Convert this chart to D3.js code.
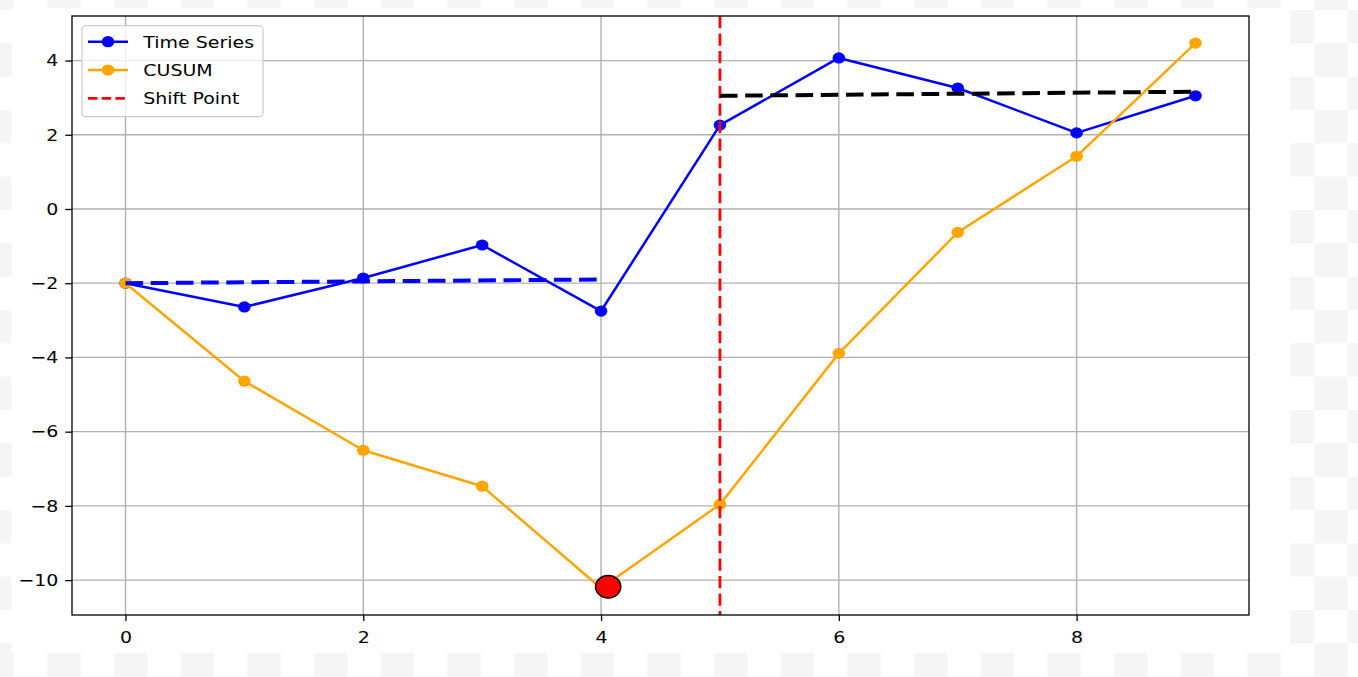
<!DOCTYPE html>
<html>
<head>
<meta charset="utf-8">
<script src="https://cdn.jsdelivr.net/npm/d3@7"></script>
<style>
    body { margin: 0; background: #fff; }
    text { font-family: "DejaVu Sans", sans-serif; }
</style>
</head>
<body>
<svg id="chart" width="1358" height="677"></svg>
<script>
// values
var steps = [0, 1, 2, 3, 4, 5, 6, 7, 8, 9];
var timeSeries = [-2.0, -2.64, -1.86, -0.97, -2.75, 2.26, 4.07, 3.26, 2.05, 3.05];
var cusum = [-2.0, -4.64, -6.5, -7.47, -10.22, -7.96, -3.89, -0.63, 1.42, 4.47];
var shiftPoint = 5;
var meanBefore = [[0, -2.0], [4, -1.9]];
var meanAfter = [[5, 3.05], [9, 3.16]];
var changePoint = [4.06, -10.18];
var xTicks = [0, 2, 4, 6, 8];
var yTicks = [-10, -8, -6, -4, -2, 0, 2, 4];
var legendLabels = ["Time Series", "CUSUM", "Shift Point"];

var svg = d3.select("#chart");
var sx = 1.15; // picture is stretched horizontally

// checker background + white figure
var defs = svg.append("defs");
var pat = defs.append("pattern").attr("id", "checker")
    .attr("patternUnits", "userSpaceOnUse")
    .attr("x", 14).attr("y", 10)
    .attr("width", 66.67).attr("height", 66.67);
pat.append("rect").attr("width", 66.67).attr("height", 66.67).attr("fill", "#fff");
pat.append("rect").attr("width", 33.33).attr("height", 33.33).attr("fill", "#f5f5f5");
pat.append("rect").attr("x", 33.33).attr("y", 33.33).attr("width", 33.33).attr("height", 33.33).attr("fill", "#f5f5f5");
svg.append("rect").attr("width", 1358).attr("height", 677).attr("fill", "url(#checker)");
svg.append("rect").attr("x", 11.5).attr("y", 8).attr("width", 1278.5).attr("height", 645).attr("fill", "#fff");

var axLeft = 72, axRight = 1249, axTop = 16, axBottom = 615;
var x = d3.scaleLinear().domain([-0.45, 9.45]).range([axLeft, axRight]);
var y = d3.scaleLinear().domain([-10.94, 5.2]).range([axBottom, axTop]);

// grid
var grid = svg.append("g");
xTicks.forEach(function (t) {
    grid.append("line").attr("x1", x(t)).attr("x2", x(t)).attr("y1", axTop).attr("y2", axBottom)
        .attr("stroke", "#b0b0b0").attr("stroke-width", 1.4);
});
yTicks.forEach(function (t) {
    grid.append("line").attr("x1", axLeft).attr("x2", axRight).attr("y1", y(t)).attr("y2", y(t))
        .attr("stroke", "#b0b0b0").attr("stroke-width", 1.3);
});

var plot = svg.append("g");
var line = d3.line().x(function (d, i) { return x(steps[i]); }).y(function (d) { return y(d); });

function drawSeries(values, color) {
    plot.append("path").datum(values).attr("d", line)
        .attr("fill", "none").attr("stroke", color).attr("stroke-width", 2.5)
        .attr("stroke-linejoin", "round");
    plot.selectAll(null).data(values).enter().append("ellipse")
        .attr("cx", function (d, i) { return x(steps[i]); })
        .attr("cy", function (d) { return y(d); })
        .attr("rx", 6.3).attr("ry", 5.6)
        .attr("fill", color);
}
drawSeries(timeSeries, "#0000ff");
drawSeries(cusum, "#ffa500");

// shift point
plot.append("line").attr("x1", x(shiftPoint)).attr("x2", x(shiftPoint)).attr("y1", axTop).attr("y2", axBottom)
    .attr("stroke", "#ff0000").attr("stroke-width", 2.8).attr("stroke-dasharray", "12.2 5.3");

var seg = d3.line().x(function (d) { return x(d[0]); }).y(function (d) { return y(d[1]); });
plot.append("path").datum(meanBefore).attr("d", seg).attr("fill", "none")
    .attr("stroke", "#0000ff").attr("stroke-width", 4).attr("stroke-dasharray", "17.6 7.6");
plot.append("path").datum(meanAfter).attr("d", seg).attr("fill", "none")
    .attr("stroke", "#000").attr("stroke-width", 4).attr("stroke-dasharray", "17.6 7.6");

plot.append("ellipse").attr("cx", x(changePoint[0])).attr("cy", y(changePoint[1]))
    .attr("rx", 12.6).attr("ry", 11.2).attr("fill", "#ff0000")
    .attr("stroke", "#000").attr("stroke-width", 1.5);

// axes
var xAxis = svg.append("g").attr("transform", "translate(0," + axBottom + ")")
    .call(d3.axisBottom(x).tickValues(xTicks).tickSize(6).tickPadding(6).tickFormat(d3.format("d")));
var yAxis = svg.append("g").attr("transform", "translate(" + axLeft + ",0)")
    .call(d3.axisLeft(y).tickValues(yTicks).tickSize(6.7).tickPadding(6).tickFormat(d3.format("d")));
[xAxis, yAxis].forEach(function (a) {
    a.select(".domain").remove();
    a.selectAll(".tick line").attr("stroke", "#000").attr("stroke-width", 1.3);
    a.selectAll(".tick text").attr("fill", "#000").style("font-size", "16.5px")
        .style("font-family", "DejaVu Sans");
});
xAxis.selectAll(".tick text").attr("transform", "scale(" + sx + ",1)").attr("y", 16).attr("dy", "0.71em");
yAxis.selectAll(".tick text").attr("x", -13.6 / sx).attr("transform", "scale(" + sx + ",1)");

svg.append("rect").attr("x", axLeft).attr("y", axTop).attr("width", axRight - axLeft).attr("height", axBottom - axTop)
    .attr("fill", "none").attr("stroke", "#000").attr("stroke-width", 1.3);

// legend
var legend = svg.append("g");
legend.append("rect").attr("x", 82).attr("y", 25.7).attr("width", 181).attr("height", 91)
    .attr("rx", 4).attr("fill", "#fff").attr("fill-opacity", 0.8)
    .attr("stroke", "#cccccc").attr("stroke-width", 1.2);
var legendColors = ["#0000ff", "#ffa500", "#ff0000"];
legendLabels.forEach(function (label, i) {
    var ly = 41.7 + i * 28.3;
    var l = legend.append("line").attr("x1", 88).attr("x2", 128).attr("y1", ly).attr("y2", ly)
        .attr("stroke", legendColors[i]).attr("stroke-width", i == 2 ? 2.8 : 2.5);
    if (i == 2) {
        l.attr("stroke-dasharray", "9.5 4.2");
    } else {
        legend.append("ellipse").attr("cx", 108).attr("cy", ly).attr("rx", 6.3).attr("ry", 5.6)
            .attr("fill", legendColors[i]);
    }
    legend.append("text").attr("transform", "translate(143.3," + (ly + 6) + ") scale(" + sx + ",1)")
        .style("font-size", "16.5px").attr("fill", "#000").text(label);
});
</script>
</body>
</html>
